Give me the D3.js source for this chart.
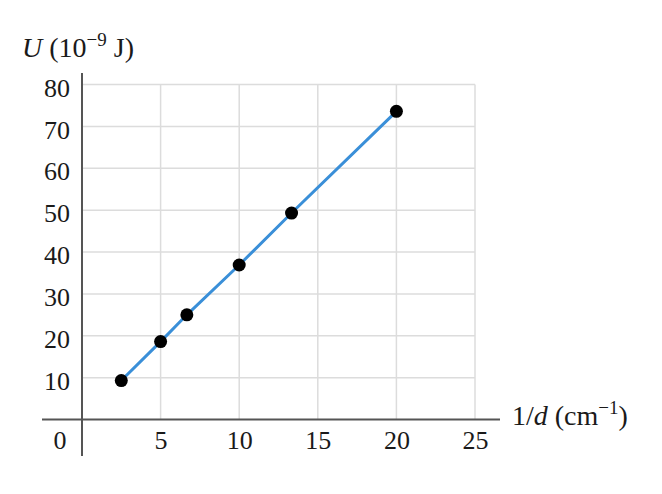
<!DOCTYPE html>
<html>
<head>
<meta charset="utf-8">
<script src="https://cdn.jsdelivr.net/npm/d3@7"></script>
<style>
  body { margin: 0; background: #fff; }
  text { font-family: "Liberation Serif", "Times New Roman", serif; fill: #1a1a1a; }
</style>
</head>
<body>
<div id="chart"></div>
<script>
// data: 1/d in cm^-1, U in 10^-9 J
const invD = [2.5, 5, 6.67, 10, 13.33, 20];
const energy = [9.3, 18.6, 25, 36.9, 49.3, 73.6];
const xTicks = [5, 10, 15, 20, 25];
const yTicks = [10, 20, 30, 40, 50, 60, 70, 80];

const width = 662, height = 494;
const svg = d3.select("#chart").append("svg")
    .attr("width", width)
    .attr("height", height);

// scales: plot area from x=0..25, y=0..80
let xScale = d3.scaleLinear().domain([0, 25]).range([82, 475]);
let yScale = d3.scaleLinear().domain([0, 80]).range([419.5, 84.5]);

// grid
let grid = svg.append("g").attr("id", "grid");
grid.selectAll(".hgrid").data(yTicks).enter().append("line")
    .attr("class", "hgrid")
    .attr("x1", xScale(0)).attr("x2", xScale(25))
    .attr("y1", d => yScale(d)).attr("y2", d => yScale(d))
    .attr("stroke", "#dcdcdc").attr("stroke-width", 1.5);
grid.selectAll(".vgrid").data(xTicks).enter().append("line")
    .attr("class", "vgrid")
    .attr("x1", d => xScale(d)).attr("x2", d => xScale(d))
    .attr("y1", yScale(0)).attr("y2", yScale(80))
    .attr("stroke", "#dcdcdc").attr("stroke-width", 1.5);

// axes (tick labels only, lines drawn as extended lines below)
let xAxis = d3.axisBottom(xScale).tickValues(xTicks).tickSize(0).tickPadding(11);
let yAxis = d3.axisLeft(yScale).tickValues(yTicks).tickSize(0).tickPadding(12);

let gx = svg.append("g").attr("transform", "translate(0," + yScale(0) + ")").call(xAxis);
gx.select(".domain").remove();
gx.selectAll("text").style("font-size", "26px").style("font-family", "Liberation Serif").attr("fill", "#1a1a1a");

let gy = svg.append("g").attr("transform", "translate(" + xScale(0) + ",0)").call(yAxis);
gy.select(".domain").remove();
gy.selectAll("text").style("font-size", "26px").style("font-family", "Liberation Serif").attr("fill", "#1a1a1a")
    .attr("dy", "0.45em");

// axis lines, extended past the plot like the textbook figure
svg.append("line")
    .attr("x1", 42).attr("x2", 500)
    .attr("y1", yScale(0)).attr("y2", yScale(0))
    .attr("stroke", "#555").attr("stroke-width", 2);
svg.append("line")
    .attr("x1", xScale(0)).attr("x2", xScale(0))
    .attr("y1", 73).attr("y2", 456)
    .attr("stroke", "#555").attr("stroke-width", 2);

// zero label in the lower-left quadrant
svg.append("text").text("0")
    .attr("x", 60).attr("y", 449)
    .attr("text-anchor", "middle")
    .style("font-size", "26px");

// axis titles
let yl = svg.append("text").attr("x", 22).attr("y", 57).style("font-size", "28px");
yl.append("tspan").text("U").style("font-style", "italic");
yl.append("tspan").text(" (10");
yl.append("tspan").text("\u22129").attr("dy", -11).style("font-size", "19px");
yl.append("tspan").text(" J)").attr("dy", 11);

let xl = svg.append("text").attr("x", 512).attr("y", 425).style("font-size", "28px");
xl.append("tspan").text("1/");
xl.append("tspan").text("d").style("font-style", "italic");
xl.append("tspan").text(" (cm");
xl.append("tspan").text("\u22121").attr("dy", -11).style("font-size", "19px");
xl.append("tspan").text(")").attr("dy", 11);

// data line and points
let pts = invD.map((x, i) => ({x: x, y: energy[i]}));
let line = d3.line().x(d => xScale(d.x)).y(d => yScale(d.y));
svg.append("path").datum(pts)
    .attr("d", line)
    .attr("fill", "none")
    .attr("stroke", "#3a8fd8")
    .attr("stroke-width", 3);

svg.selectAll(".pt").data(pts).enter().append("circle")
    .attr("class", "pt")
    .attr("cx", d => xScale(d.x))
    .attr("cy", d => yScale(d.y))
    .attr("r", 6.5)
    .attr("fill", "#000");
</script>
</body>
</html>
